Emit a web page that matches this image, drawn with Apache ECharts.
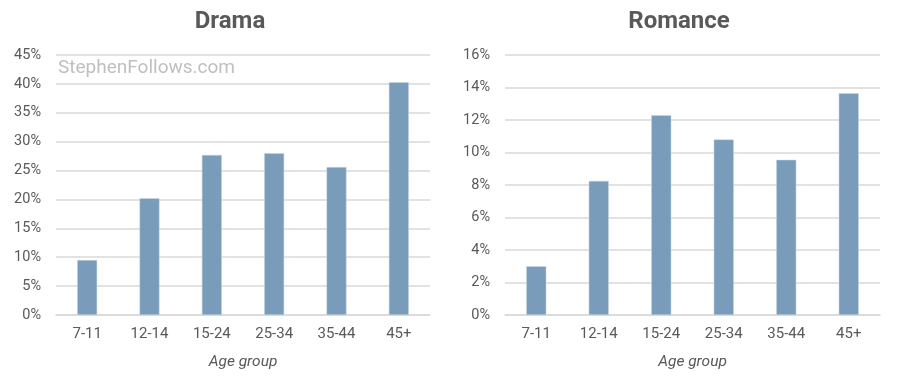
<!DOCTYPE html>
<html><head><meta charset="utf-8">
<script src="https://cdn.jsdelivr.net/npm/echarts@6/dist/echarts.min.js"></script>
<style>html,body{margin:0;padding:0;background:#fff}#c{width:900px;height:380px}</style>
</head><body><div id="c"></div>
<script>
var categories = ['7-11','12-14','15-24','25-34','35-44','45+'];
var dramaValues = [9.5, 20.2, 27.7, 28.0, 25.6, 40.3];
var romanceValues = [3.0, 8.25, 12.3, 10.8, 9.55, 13.65];
var titles = ['Drama','Romance'];
var xAxisName = 'Age group';
var watermark = 'StephenFollows.com';

var txt = '#595959';
var font = 'Roboto';
function xAx(i){return {type:'category',gridIndex:i,data:categories,
  axisLine:{lineStyle:{color:'#d9d9d9',width:1.5}},axisTick:{show:false},
  axisLabel:{color:txt,fontSize:15,fontFamily:font,margin:12},
  name:xAxisName,nameLocation:'middle',nameGap:39,
  nameTextStyle:{color:txt,fontSize:15.5,fontStyle:'italic',fontFamily:font}};}
function yAx(i,max,interval){return {type:'value',gridIndex:i,min:0,max:max,interval:interval,
  axisLine:{show:false},axisTick:{show:false},
  splitLine:{lineStyle:{color:'#d9d9d9',width:1.5}},
  axisLabel:{color:txt,fontSize:14.5,fontFamily:font,margin:15,formatter:'{value}%'}};}
var chart = echarts.init(document.getElementById('c'));
chart.setOption({
  animation:false,
  title:[
    {text:titles[0],left:225,top:5,textAlign:'center',textStyle:{color:txt,fontSize:24,fontWeight:'bold',fontFamily:font}},
    {text:titles[1],left:674,top:5,textAlign:'center',textStyle:{color:txt,fontSize:24,fontWeight:'bold',fontFamily:font}}
  ],
  graphic:[{type:'text',left:58,top:59,style:{text:watermark,fill:'#bfbfbf',fontSize:19,fontFamily:font}}],
  grid:[{left:56,right:470,top:55,bottom:65},{left:505,right:20,top:55,bottom:65}],
  xAxis:[xAx(0),xAx(1)],
  yAxis:[yAx(0,45,5),yAx(1,16,2)],
  series:[
    {type:'bar',xAxisIndex:0,yAxisIndex:0,data:dramaValues,barWidth:'32%',
     itemStyle:{color:'#789cba',borderColor:'#c6d6e3',borderWidth:0.5}},
    {type:'bar',xAxisIndex:1,yAxisIndex:1,data:romanceValues,barWidth:'32%',
     itemStyle:{color:'#789cba',borderColor:'#c6d6e3',borderWidth:0.5}}
  ]
});
</script></body></html>
